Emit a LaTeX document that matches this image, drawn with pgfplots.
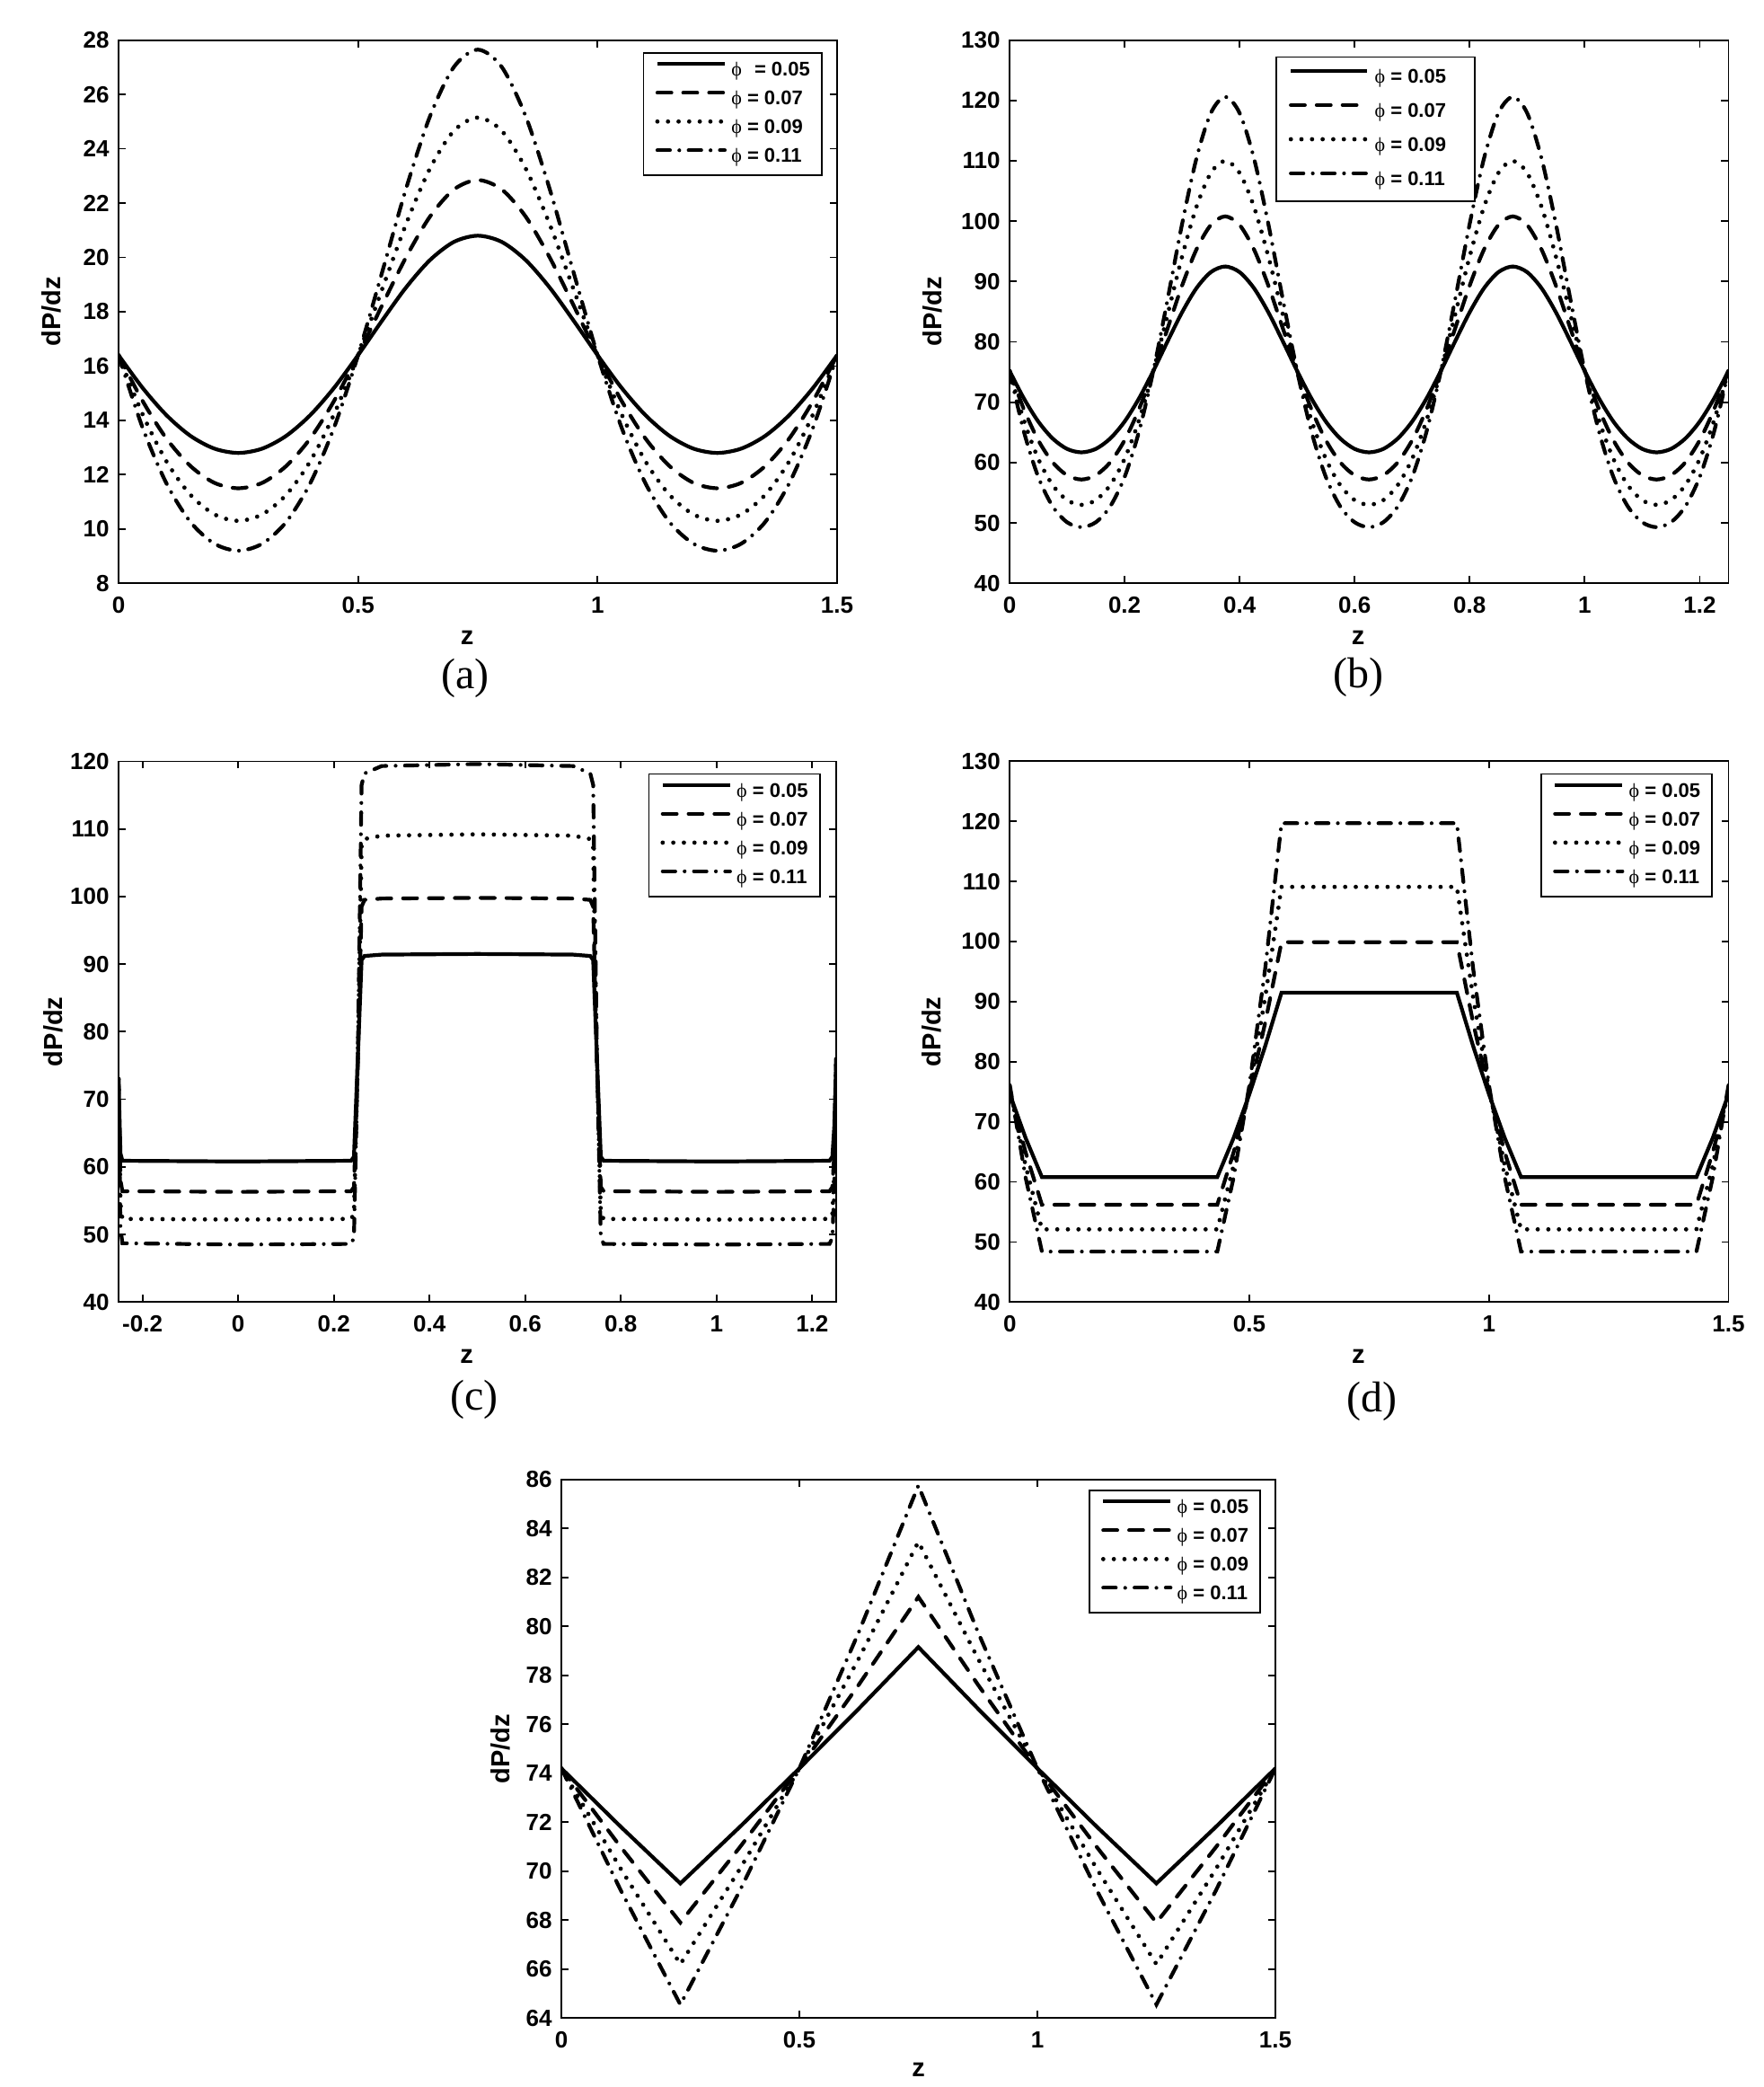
\documentclass[border=0pt]{standalone}
\usepackage{fontspec}
\setmainfont{Liberation Sans}
\newfontfamily\capfont{Liberation Serif}
\newfontfamily\phifont{Liberation Serif}
\usepackage{pgfplots}
\usepackage{pgfplotstable}
\pgfplotsset{compat=1.18}

\newcommand{\phis}{{\phifont\mdseries ϕ}}

\pgfplotstableread{
z c1 c2 c3 c4
0.00 16.40 16.40 16.40 16.40
0.05 15.20 14.72 14.23 13.74
0.10 14.19 13.33 12.49 11.68
0.15 13.43 12.32 11.26 10.26
0.20 12.96 11.70 10.54 9.46
0.25 12.80 11.50 10.30 9.20
0.30 12.96 11.70 10.54 9.46
0.35 13.43 12.32 11.26 10.26
0.40 14.19 13.33 12.49 11.68
0.45 15.20 14.72 14.23 13.74
0.50 16.40 16.40 16.40 16.40
0.55 17.67 18.23 18.82 19.44
0.60 18.89 20.00 21.22 22.52
0.65 19.90 21.50 23.27 25.19
0.70 20.57 22.50 24.66 27.01
0.75 20.80 22.85 25.15 27.65
0.80 20.57 22.50 24.66 27.01
0.85 19.90 21.50 23.27 25.19
0.90 18.89 20.00 21.22 22.52
0.95 17.67 18.23 18.82 19.44
1.00 16.40 16.40 16.40 16.40
1.05 15.20 14.72 14.23 13.74
1.10 14.19 13.33 12.49 11.68
1.15 13.43 12.32 11.26 10.26
1.20 12.96 11.70 10.54 9.46
1.25 12.80 11.50 10.30 9.20
1.30 12.96 11.70 10.54 9.46
1.35 13.43 12.32 11.26 10.26
1.40 14.19 13.33 12.49 11.68
1.45 15.20 14.72 14.23 13.74
1.50 16.40 16.40 16.40 16.40
}\dataA

\pgfplotstableread{
z c1 c2 c3 c4
0.000 75.20 75.20 75.20 75.20
0.025 70.62 68.83 67.00 65.12
0.050 66.80 63.70 60.62 57.61
0.075 63.99 60.05 56.27 52.74
0.100 62.27 57.91 53.79 50.12
0.125 61.70 57.20 53.00 49.30
0.150 62.27 57.91 53.79 50.12
0.175 63.99 60.05 56.27 52.74
0.200 66.80 63.70 60.62 57.61
0.225 70.62 68.83 67.00 65.12
0.250 75.20 75.20 75.20 75.20
0.275 80.14 82.30 84.61 87.15
0.300 84.91 89.33 94.14 99.53
0.325 88.90 95.32 102.38 110.42
0.350 91.56 99.37 108.00 117.92
0.375 92.50 100.80 110.00 120.60
0.400 91.56 99.37 108.00 117.92
0.425 88.90 95.32 102.38 110.42
0.450 84.91 89.33 94.14 99.53
0.475 80.14 82.30 84.61 87.15
0.500 75.20 75.20 75.20 75.20
0.525 70.62 68.83 67.00 65.12
0.550 66.80 63.70 60.62 57.61
0.575 63.99 60.05 56.27 52.74
0.600 62.27 57.91 53.79 50.12
0.625 61.70 57.20 53.00 49.30
0.650 62.27 57.91 53.79 50.12
0.675 63.99 60.05 56.27 52.74
0.700 66.80 63.70 60.62 57.61
0.725 70.62 68.83 67.00 65.12
0.750 75.20 75.20 75.20 75.20
0.775 80.14 82.30 84.61 87.15
0.800 84.91 89.33 94.14 99.53
0.825 88.90 95.32 102.38 110.42
0.850 91.56 99.37 108.00 117.92
0.875 92.50 100.80 110.00 120.60
0.900 91.56 99.37 108.00 117.92
0.925 88.90 95.32 102.38 110.42
0.950 84.91 89.33 94.14 99.53
0.975 80.14 82.30 84.61 87.15
1.000 75.20 75.20 75.20 75.20
1.025 70.62 68.83 67.00 65.12
1.050 66.80 63.70 60.62 57.61
1.075 63.99 60.05 56.27 52.74
1.100 62.27 57.91 53.79 50.12
1.125 61.70 57.20 53.00 49.30
1.150 62.27 57.91 53.79 50.12
1.175 63.99 60.05 56.27 52.74
1.200 66.80 63.70 60.62 57.61
1.225 70.62 68.83 67.00 65.12
1.250 75.20 75.20 75.20 75.20
}\dataB

\pgfplotstableread{
z c1 c2 c3 c4
-0.250 73.0 73.0 73.0 73.0
-0.246 62.0 58.0 54.5 51.0
-0.242 60.9 56.4 52.3 48.7
0.000 60.8 56.3 52.2 48.5
0.236 60.9 56.4 52.3 48.6
0.242 61.5 57.0 53.0 49.5
0.250 76.0 75.0 75.4 76.0
0.258 90.6 98.5 107.5 116.5
0.264 91.2 99.5 108.5 118.2
0.300 91.4 99.7 109.0 119.3
0.500 91.5 99.8 109.2 119.6
0.700 91.4 99.7 109.0 119.3
0.736 91.2 99.5 108.5 118.2
0.742 90.6 98.5 107.5 116.5
0.750 76.0 75.0 75.4 76.0
0.758 61.5 57.0 53.0 49.5
0.764 60.9 56.4 52.3 48.6
1.000 60.8 56.3 52.2 48.5
1.236 60.9 56.4 52.3 48.6
1.242 61.5 57.0 53.0 49.5
1.246 66.0 62.0 59.0 57.0
1.250 76.0 76.0 76.0 76.0
}\dataC

\pgfplotstableread{
z c1 c2 c3 c4
0.000 74.6 74.9 75.4 76.1
0.033 67.3 64.9 62.7 60.7
0.067 60.8 56.2 52.1 48.4
0.433 60.8 56.2 52.1 48.4
0.467 67.3 64.9 62.7 60.7
0.500 74.6 74.9 75.4 76.1
0.533 82.6 86.5 90.7 95.5
0.567 91.5 99.9 109.1 119.7
0.933 91.5 99.9 109.1 119.7
0.967 82.6 86.5 90.7 95.5
1.000 74.6 74.9 75.4 76.1
1.033 67.3 64.9 62.7 60.7
1.067 60.8 56.2 52.1 48.4
1.433 60.8 56.2 52.1 48.4
1.467 67.3 64.9 62.7 60.7
1.500 74.6 74.9 75.4 76.1
}\dataD

\pgfplotstableread{
z c1 c2 c3 c4
0.000 74.20 74.20 74.20 74.20
0.125 71.81 70.98 70.09 69.21
0.250 69.50 67.90 66.20 64.55
0.375 71.81 70.98 70.09 69.21
0.500 74.20 74.20 74.20 74.20
0.625 76.64 77.62 78.69 79.77
0.750 79.15 81.20 83.45 85.75
0.875 76.64 77.62 78.69 79.77
1.000 74.20 74.20 74.20 74.20
1.125 71.81 70.98 70.09 69.21
1.250 69.50 67.90 66.20 64.55
1.375 71.81 70.98 70.09 69.21
1.500 74.20 74.20 74.20 74.20
}\dataE

\pgfplotsset{
  panel/.style={
    scale only axis,
    axis line style={line width=0.9pt},
    every tick/.style={line width=0.9pt, black},
    major tick length=4pt,
    tick align=inside,
    /pgf/number format/assume math mode=true,
    ticklabel style={font=\fontsize{13}{15}\selectfont\bfseries},
    yticklabel style={xshift=-1.7pt},
    xticklabel style={yshift=-4pt},
    label style={font=\fontsize{14.5}{17}\selectfont\bfseries},
    xlabel={z}, ylabel={dP/dz},
    xlabel style={at={([yshift=-30.5pt]axis description cs:0.485,0)}, anchor=center},
    legend cell align=left,
    legend style={draw=black, line width=0.8pt, fill=white,
      font=\fontsize{11}{13}\selectfont\bfseries,
      inner xsep=6.5pt, inner ysep=4.9pt, row sep=5.7pt, column sep=2.5pt,
      nodes={inner sep=0pt, text height=8pt, text depth=2.3pt}},
    legend image code/.code={\draw[##1] (0pt,3.9pt) -- (37.5pt,3.9pt);},
  },
  s1/.style={black, line width=2.1pt, solid},
  s2/.style={black, line width=2.1pt, line cap=round, dash pattern=on 7.8pt off 6.6pt},
  s3/.style={black, line width=2.4pt, line cap=round, dash pattern=on 0pt off 5.9pt},
  s4/.style={black, line width=2.1pt, line cap=round, dash pattern=on 7pt off 5.2pt on 0pt off 5.2pt},
}

\begin{document}
\begin{tikzpicture}
\useasboundingbox (0,0) rectangle (982pt,1161.5pt);

% (a)
\begin{axis}[panel, at={(66pt,836.85pt)}, anchor=south west, width=400pt, height=302.3pt,
  xmin=0, xmax=1.5, ymin=8, ymax=28,
  xtick={0,0.5,1,1.5}, xticklabels={0,0.5,1,1.5},
  ytick={8,10,...,28},
  ylabel style={at={([xshift=-37.25pt]axis description cs:0,0.5)}, anchor=center},
  legend style={at={(1,1)}, anchor=north east, xshift=-8.2pt, yshift=-6.75pt}]
\addplot[s1, smooth] table[x=z, y=c1] {\dataA}; \addlegendentry{\phis\hspace{4pt} = 0.05}
\addplot[s2, smooth] table[x=z, y=c2] {\dataA}; \addlegendentry{\phis{} = 0.07}
\addplot[s3, smooth] table[x=z, y=c3] {\dataA}; \addlegendentry{\phis{} = 0.09}
\addplot[s4, smooth] table[x=z, y=c4] {\dataA}; \addlegendentry{\phis{} = 0.11}
\end{axis}

% (b)
\begin{axis}[panel, at={(562pt,836.85pt)}, anchor=south west, width=400.2pt, height=302.3pt,
  xmin=0, xmax=1.25, ymin=40, ymax=130,
  xtick={0,0.2,0.4,0.6,0.8,1,1.2}, xticklabels={0,0.2,0.4,0.6,0.8,1,1.2},
  ytick={40,50,...,130},
  ylabel style={at={([xshift=-43pt]axis description cs:0,0.5)}, anchor=center},
  legend image code/.code={\draw[#1] (0pt,3.9pt) -- (42.5pt,3.9pt);},
  legend style={at={(0,1)}, anchor=north west, xshift=148pt, yshift=-9pt,
    row sep=8.7pt, inner ysep=6.5pt, inner xsep=7pt, column sep=3pt}]
\addplot[s1, smooth] table[x=z, y=c1] {\dataB}; \addlegendentry{\phis{} = 0.05\rule{9pt}{0pt}}
\addplot[s2, smooth] table[x=z, y=c2] {\dataB}; \addlegendentry{\phis{} = 0.07}
\addplot[s3, smooth] table[x=z, y=c3] {\dataB}; \addlegendentry{\phis{} = 0.09}
\addplot[s4, smooth] table[x=z, y=c4] {\dataB}; \addlegendentry{\phis{} = 0.11}
\end{axis}

% (c)
\begin{axis}[panel, at={(66pt,436.85pt)}, anchor=south west, width=399.5pt, height=300.95pt,
  xmin=-0.25, xmax=1.25, ymin=40, ymax=120,
  xtick={-0.2,0,0.2,0.4,0.6,0.8,1,1.2}, xticklabels={-0.2,0,0.2,0.4,0.6,0.8,1,1.2},
  ytick={40,50,...,120},
  ylabel style={at={([xshift=-36.5pt]axis description cs:0,0.5)}, anchor=center},
  legend style={at={(1,1)}, anchor=north east, xshift=-8.75pt, yshift=-6.7pt}]
\addplot[s1] table[x=z, y=c1] {\dataC}; \addlegendentry{\phis{} = 0.05}
\addplot[s2] table[x=z, y=c2] {\dataC}; \addlegendentry{\phis{} = 0.07}
\addplot[s3] table[x=z, y=c3] {\dataC}; \addlegendentry{\phis{} = 0.09}
\addplot[s4] table[x=z, y=c4] {\dataC}; \addlegendentry{\phis{} = 0.11}
\end{axis}

% (d)
\begin{axis}[panel, at={(562.15pt,436.85pt)}, anchor=south west, width=400.1pt, height=300.95pt,
  xmin=0, xmax=1.5, ymin=40, ymax=130,
  xtick={0,0.5,1,1.5}, xticklabels={0,0.5,1,1.5},
  ytick={40,50,...,130},
  ylabel style={at={([xshift=-43.3pt]axis description cs:0,0.5)}, anchor=center},
  legend style={at={(1,1)}, anchor=north east, xshift=-8.75pt, yshift=-6.7pt}]
\addplot[s1] table[x=z, y=c1] {\dataD}; \addlegendentry{\phis{} = 0.05}
\addplot[s2] table[x=z, y=c2] {\dataD}; \addlegendentry{\phis{} = 0.07}
\addplot[s3] table[x=z, y=c3] {\dataD}; \addlegendentry{\phis{} = 0.09}
\addplot[s4] table[x=z, y=c4] {\dataD}; \addlegendentry{\phis{} = 0.11}
\end{axis}

% (e)
\begin{axis}[panel, at={(312.5pt,38.35pt)}, anchor=south west, width=397.5pt, height=299.8pt,
  xmin=0, xmax=1.5, ymin=64, ymax=86,
  xtick={0,0.5,1,1.5}, xticklabels={0,0.5,1,1.5},
  ytick={64,66,...,86},
  xlabel style={at={([yshift=-29pt]axis description cs:0.5,0)}, anchor=center},
  ylabel style={at={([xshift=-33.75pt]axis description cs:0,0.5)}, anchor=center},
  legend style={at={(1,1)}, anchor=north east, xshift=-8pt, yshift=-5.8pt}]
\addplot[s1] table[x=z, y=c1] {\dataE}; \addlegendentry{\phis{} = 0.05}
\addplot[s2] table[x=z, y=c2] {\dataE}; \addlegendentry{\phis{} = 0.07}
\addplot[s3] table[x=z, y=c3] {\dataE}; \addlegendentry{\phis{} = 0.09}
\addplot[s4] table[x=z, y=c4] {\dataE}; \addlegendentry{\phis{} = 0.11}
\end{axis}

\node[font=\capfont\fontsize{24}{27}\selectfont] at (259pt,784pt) {(a)};
\node[font=\capfont\fontsize{24}{27}\selectfont] at (756pt,784.5pt) {(b)};
\node[font=\capfont\fontsize{24}{27}\selectfont] at (264pt,382.5pt) {(c)};
\node[font=\capfont\fontsize{24}{27}\selectfont] at (763.5pt,381.5pt) {(d)};
\end{tikzpicture}
\end{document}
